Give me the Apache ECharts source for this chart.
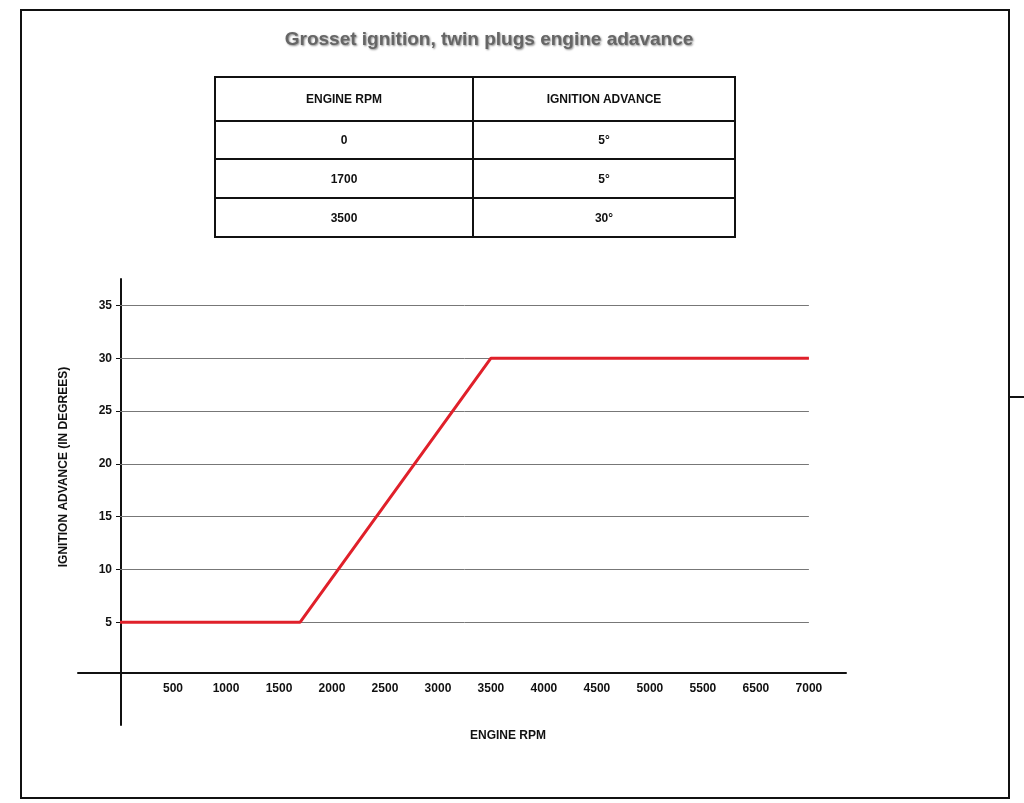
<!DOCTYPE html>
<html><head><meta charset="utf-8">
<script src="https://cdn.jsdelivr.net/npm/echarts@6/dist/echarts.min.js"></script>
<style>
html,body{margin:0;padding:0;background:#fff;}
#wrap{position:relative;width:1024px;height:803px;overflow:hidden;}
#chart{position:absolute;left:0;top:0;width:1024px;height:803px;}
#frame{position:absolute;left:20px;top:9px;width:986px;height:786px;border:2px solid #111;pointer-events:none;}
#rline{position:absolute;left:1008px;top:396px;width:16px;height:2px;background:#111;}
table{position:absolute;left:214px;top:76px;width:522px;border-collapse:collapse;font-family:"Liberation Sans",Arial,sans-serif;font-weight:bold;font-size:12px;color:#111;}
td{border:2px solid #111;text-align:center;padding:0;}
</style></head><body>
<div id="wrap">
<div id="chart"></div>
<div id="frame"></div><div id="rline"></div>
<table id="tbl"></table>
</div>
<script>
const tableHeader = ['ENGINE RPM', 'IGNITION ADVANCE'];
const tableRpm = ['0', '1700', '3500'];
const tableAdv = ['5°', '5°', '30°'];
const rpm = [0, 1700, 3500, 6500];
const advance = [5, 5, 30, 30];
const xTickValues = [500,1000,1500,2000,2500,3000,3500,4000,4500,5000,5500,6000,6500];
const xTickLabels = ['500','1000','1500','2000','2500','3000','3500','4000','4500','5000','5500','6500','7000'];
const yTickValues = [5,10,15,20,25,30,35];

let html = '<tr style="height:44px"><td style="width:256px">'+tableHeader[0]+'</td><td>'+tableHeader[1]+'</td></tr>';
const hs=[38,39,39];
for (let i=0;i<tableRpm.length;i++) html += '<tr style="height:'+hs[i]+'px"><td>'+tableRpm[i]+'</td><td>'+tableAdv[i]+'</td></tr>';
document.getElementById('tbl').innerHTML = html;

const chart = echarts.init(document.getElementById('chart'));
const font = '"Liberation Sans", Arial, sans-serif';
const lbl = {fontFamily:font,fontSize:12,fontWeight:'bold',color:'#111'};
chart.setOption({
  animation:false,
  title:{text:'Grosset ignition, twin plugs engine adavance',left:484,top:25,textAlign:'center',
    textStyle:{fontFamily:font,fontSize:19,fontWeight:'bold',color:'#666',textShadowColor:'rgba(0,0,0,0.45)',textShadowBlur:2,textShadowOffsetX:1,textShadowOffsetY:1}},
  grid:[
    {left:120,width:726,top:279,height:396,outerBoundsMode:'none',containLabel:false},
    {left:78,width:768,top:279,height:446,outerBoundsMode:'none',containLabel:false}
  ],
  xAxis:[
    {gridIndex:0,type:'value',min:0,max:6850,name:'ENGINE RPM',nameLocation:'middle',nameGap:55,
      nameTextStyle:Object.assign({},lbl,{padding:[0,0,0,50]}),
      axisLine:{show:false},axisTick:{show:false},splitLine:{show:false},
      axisLabel:Object.assign({customValues:xTickValues,margin:8,formatter:v=>{const i=xTickValues.indexOf(v);return i<0?'':xTickLabels[i];}},lbl)},
    {gridIndex:1,type:'value',min:-400,max:6850,axisLine:{onZero:true,lineStyle:{color:'#111',width:2}},
      axisTick:{show:false},axisLabel:{show:false},splitLine:{show:false}}
  ],
  yAxis:[
    {gridIndex:0,type:'value',min:0,max:37.5,name:'IGNITION ADVANCE (IN DEGREES)',nameLocation:'middle',nameGap:50,
      nameTextStyle:Object.assign({},lbl,{padding:[0,0,0,20]}),
      axisLine:{show:false},
      axisTick:{show:true,customValues:yTickValues,length:4,lineStyle:{color:'#111'}},splitLine:{show:false},
      axisLabel:Object.assign({customValues:yTickValues,margin:8},lbl)},
    {gridIndex:1,type:'value',min:-5,max:37.5,axisLine:{onZero:true,lineStyle:{color:'#111',width:2}},
      axisTick:{show:false},axisLabel:{show:false},splitLine:{show:false}}
  ],
  series:[{type:'line',xAxisIndex:0,yAxisIndex:0,data:rpm.map((x,i)=>[x,advance[i]]),symbol:'none',z:5,
    lineStyle:{color:'#e0202a',width:3},
    markLine:{silent:true,symbol:'none',label:{show:false},lineStyle:{color:'#777',width:1,type:'solid'},
      data:yTickValues.map(v=>[{coord:[0,v]},{coord:[6500,v]}])}}]
});
</script>
</body></html>
